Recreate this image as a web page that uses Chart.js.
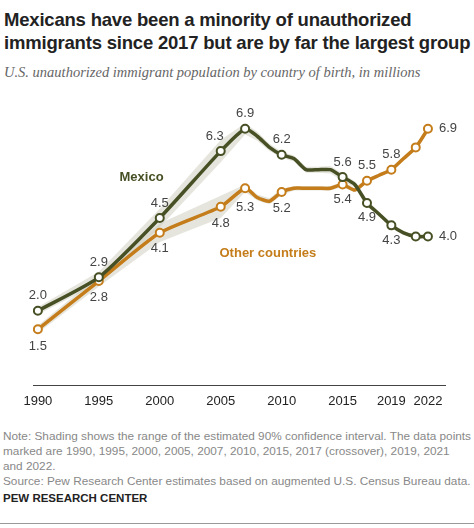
<!DOCTYPE html>
<html>
<head>
<meta charset="utf-8">
<script src="https://cdn.jsdelivr.net/npm/chart.js@4"></script>
<style>
  body { margin: 0; width: 474px; height: 528px; background: #fff; font-family: "Liberation Sans", Arial, sans-serif; position: relative; overflow: hidden; }
  h1 { position: absolute; left: 4px; top: 8px; margin: 0; font-size: 18.5px; line-height: 23px; color: #222; font-weight: bold; letter-spacing: -0.2px; }
  .sub { position: absolute; left: 4px; top: 64px; font-family: "Liberation Serif", serif; font-style: italic; font-size: 14.5px; color: #666; }
  #wrap { position: absolute; left: 0; top: 80px; width: 474px; height: 340px; }
  .note { position: absolute; left: 3px; top: 429px; font-size: 11.8px; line-height: 15px; color: #888; white-space: nowrap; }
  .pew { position: absolute; left: 3px; top: 492px; font-size: 11.5px; font-weight: bold; color: #222; }
  .rule { position: absolute; left: 0; right: 0; top: 523px; border-top: 1px solid #999; }
</style>
</head>
<body>
<h1>Mexicans have been a minority of unauthorized<br>immigrants since 2017 but are by far the largest group</h1>
<div class="sub">U.S. unauthorized immigrant population by country of birth, in millions</div>
<div id="wrap"><canvas id="chart"></canvas></div>
<div class="note">Note: Shading shows the range of the estimated 90% confidence interval. The data points<br>marked are 1990, 1995, 2000, 2005, 2007, 2010, 2015, 2017 (crossover), 2019, 2021<br>and 2022.<br>Source: Pew Research Center estimates based on augmented U.S. Census Bureau data.</div>
<div class="pew">PEW RESEARCH CENTER</div>
<div class="rule"></div>
<script>
const years = [1990, 1995, 2000, 2005, 2007, 2008, 2009, 2010, 2011, 2012, 2013, 2014, 2015, 2016, 2017, 2018, 2019, 2020, 2021, 2022];
const mexico = [2.0, 2.9, 4.5, 6.3, 6.9, 6.7, 6.4, 6.2, 6.1, 5.8, 5.8, 5.8, 5.6, 5.4, 4.9, 4.6, 4.3, 4.1, 4.0, 4.0];
const other = [1.5, 2.8, 4.1, 4.8, 5.3, 5.05, 4.95, 5.2, 5.3, 5.3, 5.3, 5.3, 5.4, 5.25, 5.5, 5.65, 5.8, 6.1, 6.4, 6.9];
const mexicoErr = [0.1, 0.15, 0.25, 0.3, 0.15, 0.12, 0.1, 0.08, 0.08, 0.08, 0.08, 0.1, 0.1, 0.08, 0.08, 0.06, 0.05, 0.05, 0.05, 0.05];
const otherErr = [0.1, 0.15, 0.25, 0.3, 0.1, 0.08, 0.08, 0.08, 0.06, 0.06, 0.06, 0.06, 0.06, 0.06, 0.06, 0.05, 0.05, 0.05, 0.05, 0.05];
const markedYears = [1990, 1995, 2000, 2005, 2007, 2010, 2015, 2017, 2019, 2021, 2022];
const tickYears = [1990, 1995, 2000, 2005, 2010, 2015, 2019, 2022];

// [year, dx, dy] label offsets per series
const mexicoLabels = [[1990, 0, -15], [1995, 0, -15], [2000, 0, -15], [2005, -6, -15], [2007, 0, -15], [2010, 0, -15], [2015, 0, -15], [2017, 0, 14], [2019, 0, 15], [2022, 20, 0]];
const otherLabels = [[1990, 0, 17], [1995, 0, 16], [2000, 0, 16], [2005, 0, 17], [2007, 0, 19], [2010, 0, 16], [2015, 0, 15], [2017, 0, -15], [2019, 0, -15], [2022, 20, 0]];

const GREEN = '#465024', ORANGE = '#c47d1a', BAND = 'rgba(205,203,188,0.5)';

const pts = (arr, f) => years.map((y, i) => ({ x: y, y: f ? f(i) : arr[i] }));
const radiusFor = ctx => markedYears.includes(years[ctx.dataIndex]) ? 4 : 0;

const labelPlugin = {
  id: 'labels',
  afterDatasetsDraw(chart) {
    const { ctx, scales: { x, y } } = chart;
    ctx.save();
    ctx.font = '13px "Liberation Sans", Arial, sans-serif';
    ctx.fillStyle = '#444';
    ctx.textAlign = 'center';
    ctx.textBaseline = 'middle';
    const draw = (list, data) => list.forEach(([yr, dx, dy]) => {
      const v = data[years.indexOf(yr)];
      ctx.fillText(v.toFixed(1), x.getPixelForValue(yr) + dx, y.getPixelForValue(v) + dy);
    });
    draw(mexicoLabels, mexico);
    draw(otherLabels, other);
    ctx.font = 'bold 13px "Liberation Sans", Arial, sans-serif';
    ctx.textAlign = 'left';
    ctx.fillStyle = GREEN;
    ctx.fillText('Mexico', x.getPixelForValue(1996.7), y.getPixelForValue(5.6));
    ctx.fillStyle = ORANGE;
    ctx.fillText('Other countries', x.getPixelForValue(2004.9), y.getPixelForValue(3.55));
    ctx.restore();
  }
};

new Chart(document.getElementById('chart'), {
  type: 'line',
  data: {
    datasets: [
      { data: pts(mexico), borderColor: GREEN, borderWidth: 3.5, pointRadius: radiusFor, pointBackgroundColor: '#fff', pointBorderColor: GREEN, pointBorderWidth: 2, fill: false, tension: 0.2 },
      { data: pts(other), borderColor: ORANGE, borderWidth: 3.5, pointRadius: radiusFor, pointBackgroundColor: '#fff', pointBorderColor: ORANGE, pointBorderWidth: 2, fill: false, tension: 0.2 },
      { data: pts(null, i => mexico[i] + mexicoErr[i]), borderWidth: 0, pointRadius: 0, fill: false, tension: 0 },
      { data: pts(null, i => mexico[i] - mexicoErr[i]), borderWidth: 0, pointRadius: 0, fill: '-1', backgroundColor: BAND, tension: 0 },
      { data: pts(null, i => other[i] + otherErr[i]), borderWidth: 0, pointRadius: 0, fill: false, tension: 0 },
      { data: pts(null, i => other[i] - otherErr[i]), borderWidth: 0, pointRadius: 0, fill: '-1', backgroundColor: BAND, tension: 0 }
    ]
  },
  options: {
    responsive: true,
    maintainAspectRatio: false,
    animation: false,
    layout: { padding: { left: 33, right: 29, top: 8, bottom: 0 } },
    plugins: { legend: { display: false }, tooltip: { enabled: false } },
    scales: {
      x: {
        type: 'linear', min: 1989.6, max: 2023.4,
        grid: { display: false, drawTicks: false },
        border: { display: true, color: '#444', width: 1 },
        afterBuildTicks: s => { s.ticks = tickYears.map(v => ({ value: v })); },
        afterFit: s => { s.height = 35; },
        ticks: { color: '#222', font: { size: 13, family: '"Liberation Sans", Arial, sans-serif' }, padding: 9, maxRotation: 0, autoSkip: false, callback: v => String(v) }
      },
      y: { min: 0, max: 8, display: false }
    }
  },
  plugins: [labelPlugin]
});
</script>
</body>
</html>
